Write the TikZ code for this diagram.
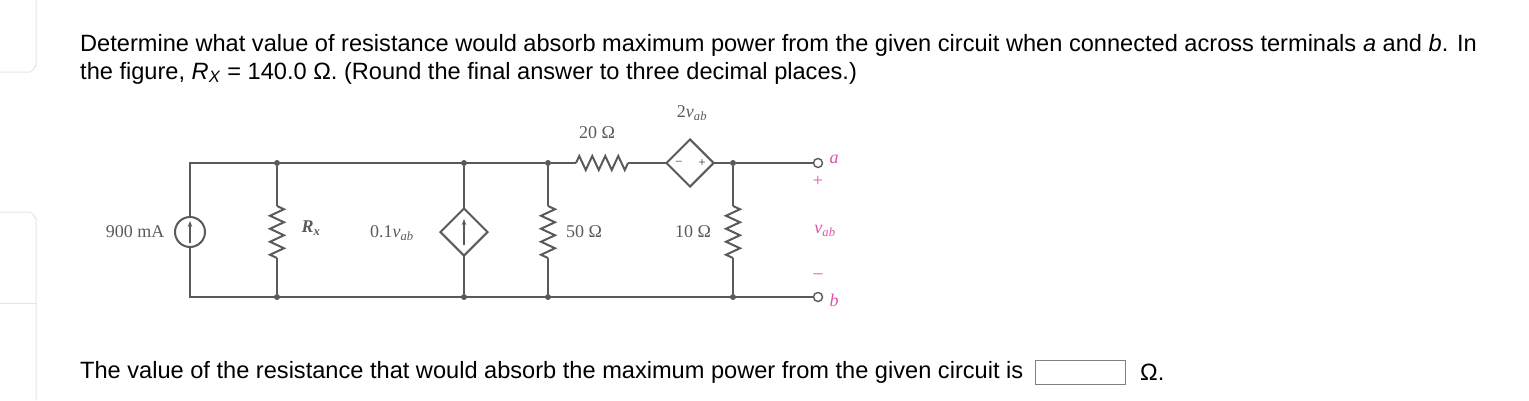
\documentclass[tikz,border=0pt]{standalone}
\usepackage{fontspec}
\setmainfont{Liberation Sans}
\newfontfamily\ser{Liberation Serif}
\usetikzlibrary{decorations.pathmorphing,arrows.meta,shapes.geometric}
\definecolor{pk}{RGB}{225,80,170}
\definecolor{wr}{RGB}{90,90,90}
\tikzset{
 w/.style={draw=wr,line width=2pt},
 res/.style={decorate,decoration={zigzag,segment length=13pt,amplitude=7pt}},
 dot/.style={circle,fill=wr,inner sep=0pt,minimum size=6pt},
 term/.style={circle,draw=wr,fill=white,line width=1.4pt,inner sep=0pt,minimum size=9pt},
 dia/.style={diamond,draw=wr,line width=2pt,minimum size=48pt,inner sep=0pt,fill=white},
 lab/.style={font=\ser\fontsize{18}{18}\selectfont,text=wr},
 plab/.style={font=\ser\fontsize{18}{18}\selectfont,text=pk},
 txt/.style={font=\fontsize{23.6}{26}\selectfont,anchor=west,inner sep=0pt}
}
\begin{document}
\begin{tikzpicture}[x=1pt,y=-1pt]
\useasboundingbox (0,0) rectangle (1529,400);
% page card lines
\draw[gray!20,line width=1pt] (0,72) -- (30,72) to[out=0,in=90] (36,66) -- (36,0);
\draw[gray!20,line width=1pt] (0,212) -- (30,212) to[out=0,in=-90] (36,218) -- (36,400);
\draw[gray!20,line width=1pt] (0,303) -- (36,303);
\node[txt] (l1) at (80,45) {Determine what value of resistance would absorb maximum power from the given circuit when connected across terminals \textit{a} and \textit{b}. In};
\node[txt] (l2) at (80,73) {the figure, \textit{R}\textsubscript{\textit{X}} = 140.0 Ω. (Round the final answer to three decimal places.)};
\node[txt] (l3) at (80,372) {The value of the resistance that would absorb the maximum power from the given circuit is};
\node[draw=gray,line width=0.8pt,minimum width=90pt,minimum height=24pt,inner sep=0pt] (box) at (1080,372) {};
\node[txt] (om) at (1140,372) {Ω.};
% coordinates
\coordinate (tl) at (190,163); \coordinate (bl) at (190,297);
\node[dot] (t1) at (277,163) {}; \node[dot] (b1) at (277,297) {};
\node[dot] (t2) at (464,163) {}; \node[dot] (b2) at (464,297) {};
\node[dot] (t3) at (548,163) {}; \node[dot] (b3) at (548,297) {};
\node[dot] (t4) at (733,163) {}; \node[dot] (b4) at (733,297) {};
\node[term] (ta) at (818,163) {}; \node[term] (tb) at (818,297) {};
% wires
\draw[w] (ta) -- (t4); \draw[w] (t3) -- (tl) -- (bl) -- (tb);
% source
\node[circle,draw=wr,line width=2pt,minimum size=30pt,fill=white] (src) at (190,232) {};
\draw[wr,line width=1.4pt,-{Stealth[length=6pt]}] (190,243) -- (190,221);
% Rx
\draw[w] (t1) -- (277,206); \draw[w,res] (277,206) -- (277,258); \draw[w] (277,258) -- (b1);
% dependent current source
\draw[w] (t2) -- (b2);
\node[dia] (dcs) at (464,232) {};
\draw[wr,line width=1.4pt,-{Stealth[length=6pt]}] (464,245) -- (464,219);
% 50
\draw[w] (t3) -- (548,206); \draw[w,res] (548,206) -- (548,258); \draw[w] (548,258) -- (b3);
% 20 ohm + dep voltage source
\draw[w] (t3) -- (576,163); \draw[w,res] (576,163) -- (628,163); \draw[w] (628,163) -- (t4);
\node[dia] (dvs) at (690,163) {};
\node[font=\fontsize{11}{11}\selectfont,text=wr] at (679,163) {--};
\node[font=\fontsize{12}{12}\selectfont,text=wr] at (702,163) {+};
% 10 ohm
\draw[w] (t4) -- (733,206); \draw[w,res] (733,206) -- (733,258); \draw[w] (733,258) -- (b4);
% labels
\node[lab,anchor=east] at (168,232) {900 mA};
\node[lab,font=\ser\bfseries\itshape\fontsize{18}{18}\selectfont] at (311,228) {R\textsubscript{x}};
\node[lab] at (392,233) {0.1\textit{v}\textsubscript{\textit{ab}}};
\node[lab] at (584,232) {50 Ω};
\node[lab] at (597,133) {20 Ω};
\node[lab] at (692,113) {2\textit{v}\textsubscript{\textit{ab}}};
\node[lab] at (693,232) {10 Ω};
\node[plab] at (834,159) {\textit{a}};
\node[plab] at (834,300) {\textit{b}};
\node[plab] at (818,181) {+};
\node[plab] at (818,276) {–};
\node[plab] at (825,231) {\textit{v}\textsubscript{\textit{ab}}};
\end{tikzpicture}
\end{document}
